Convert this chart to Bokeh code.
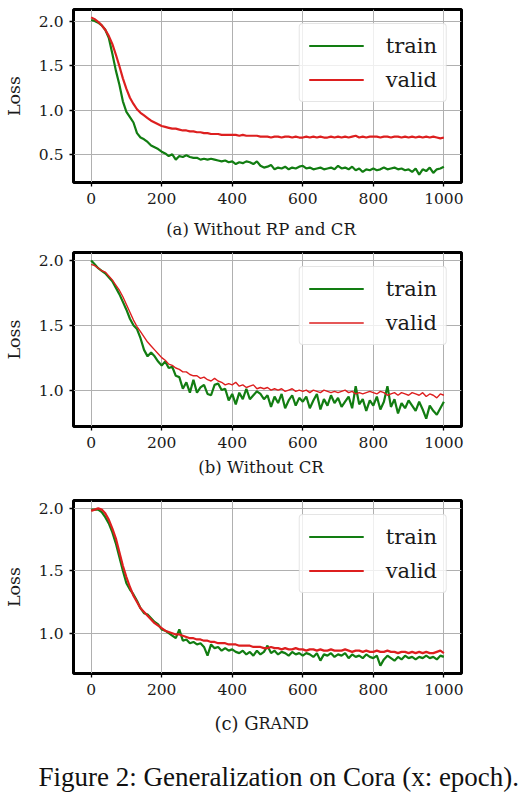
from bokeh.plotting import figure
from bokeh.layouts import column
from bokeh.models import Range1d, FixedTicker, Label, Legend, LegendItem, Title
from bokeh.embed import file_html
from bokeh.resources import INLINE

# ---------------- data ----------------
epochs = list(range(0, 1001, 10))

train_a = [2.02, 2.01, 1.99, 1.96, 1.91, 1.82, 1.64, 1.45, 1.29, 1.10,
           0.98, 0.92, 0.86, 0.74, 0.69, 0.67, 0.64, 0.60, 0.58, 0.56,
           0.53, 0.51, 0.48, 0.50, 0.44, 0.48, 0.47, 0.49, 0.47, 0.46,
           0.46, 0.44, 0.45, 0.44, 0.45, 0.44, 0.43, 0.42, 0.43, 0.41,
           0.42, 0.39, 0.41, 0.40, 0.42, 0.41, 0.39, 0.42, 0.37, 0.35,
           0.36, 0.38, 0.33, 0.35, 0.34, 0.36, 0.33, 0.35, 0.34, 0.36,
           0.37, 0.34, 0.35, 0.33, 0.34, 0.35, 0.33, 0.34, 0.35, 0.33,
           0.37, 0.34, 0.35, 0.33, 0.36, 0.32, 0.34, 0.30, 0.33, 0.32,
           0.34, 0.32, 0.33, 0.35, 0.33, 0.34, 0.35, 0.33, 0.34, 0.32,
           0.33, 0.30, 0.34, 0.27, 0.33, 0.31, 0.35, 0.29, 0.33, 0.34,
           0.36]
valid_a = [2.05, 2.03, 2.00, 1.96, 1.91, 1.84, 1.75, 1.63, 1.50, 1.36,
           1.24, 1.14, 1.07, 1.01, 0.97, 0.94, 0.91, 0.88, 0.86, 0.84,
           0.82, 0.81, 0.80, 0.79, 0.79, 0.78, 0.77, 0.77, 0.76, 0.76,
           0.75, 0.75, 0.74, 0.74, 0.73, 0.73, 0.73, 0.72, 0.72, 0.72,
           0.72, 0.72, 0.71, 0.72, 0.71, 0.71, 0.71, 0.71, 0.70, 0.70,
           0.70, 0.69, 0.70, 0.70, 0.69, 0.70, 0.70, 0.69, 0.70, 0.69,
           0.69, 0.70, 0.69, 0.70, 0.69, 0.70, 0.69, 0.69, 0.70, 0.69,
           0.70, 0.69, 0.70, 0.69, 0.70, 0.71, 0.69, 0.70, 0.69, 0.70,
           0.70, 0.70, 0.69, 0.70, 0.70, 0.69, 0.70, 0.70, 0.69, 0.70,
           0.69, 0.70, 0.69, 0.70, 0.69, 0.70, 0.69, 0.70, 0.69, 0.68,
           0.69]

train_b = [2.00, 1.97, 1.94, 1.92, 1.90, 1.87, 1.84, 1.79, 1.74, 1.68,
           1.62, 1.55, 1.50, 1.47, 1.40, 1.31, 1.26, 1.29, 1.26, 1.22,
           1.19, 1.22, 1.17, 1.18, 1.11, 1.10, 1.01, 1.06, 0.98, 1.08,
           0.98, 1.02, 1.04, 0.97, 0.96, 1.04, 1.05, 1.00, 1.01, 0.92,
           0.97, 0.89, 0.98, 0.93, 1.01, 0.93, 0.96, 0.99, 0.97, 0.93,
           0.96, 0.87, 0.95, 0.90, 0.97, 0.86, 0.92, 0.96, 0.88, 0.94,
           0.91, 0.95, 0.86, 0.92, 0.97, 0.85, 0.93, 0.88, 0.96, 0.90,
           0.94, 0.87, 0.91, 0.95, 0.86, 1.03, 0.89, 0.93, 0.84, 0.92,
           0.88, 0.95, 0.85, 0.91, 1.03, 0.87, 0.93, 0.82, 0.90, 0.86,
           0.92, 0.88, 0.84, 0.91, 0.85, 0.78, 0.88, 0.84, 0.81, 0.86,
           0.91]
valid_b = [1.97, 1.96, 1.94, 1.92, 1.91, 1.88, 1.85, 1.81, 1.77, 1.72,
           1.66, 1.60, 1.54, 1.49, 1.45, 1.41, 1.37, 1.34, 1.31, 1.28,
           1.25, 1.23, 1.20, 1.19, 1.17, 1.16, 1.14, 1.14, 1.12, 1.11,
           1.11, 1.09, 1.10, 1.08, 1.07, 1.09, 1.07, 1.06, 1.04, 1.05,
           1.04, 1.06, 1.03, 1.04, 1.02, 1.03, 1.04, 1.01, 1.02, 1.01,
           1.02, 1.00, 1.01, 1.00, 1.01, 0.99, 1.00, 1.01, 0.99, 1.00,
           0.99, 1.00, 0.98, 1.00, 0.99, 0.98, 1.00, 0.99, 0.98, 0.99,
           0.98, 0.99, 1.00, 0.98, 0.99, 0.97, 0.98, 0.97, 0.98, 0.99,
           0.98, 0.97, 0.99, 0.98, 0.96, 0.97, 0.98, 0.96, 0.98, 0.97,
           0.96, 0.98, 0.97, 0.96, 0.98, 0.95, 0.97, 0.96, 0.94, 0.97,
           0.96]

train_c = [1.99, 1.99, 1.99, 1.97, 1.93, 1.88, 1.81, 1.72, 1.61, 1.50,
           1.40, 1.35, 1.31, 1.26, 1.20, 1.16, 1.15, 1.12, 1.09, 1.07,
           1.03, 1.02, 1.00, 0.98, 0.96, 1.03, 0.94, 0.95, 0.92, 0.93,
           0.91, 0.92, 0.89, 0.82, 0.91, 0.88, 0.89, 0.86, 0.88, 0.86,
           0.87, 0.85, 0.84, 0.86, 0.83, 0.85, 0.82, 0.86, 0.83, 0.85,
           0.90, 0.84, 0.86, 0.83, 0.85, 0.84, 0.82, 0.85, 0.83, 0.84,
           0.82, 0.84, 0.83, 0.81, 0.84, 0.78, 0.83, 0.82, 0.84, 0.81,
           0.83, 0.82, 0.84, 0.80, 0.83, 0.81, 0.82, 0.80, 0.83, 0.81,
           0.80, 0.82, 0.74, 0.79, 0.82, 0.80, 0.78, 0.81, 0.79, 0.82,
           0.80, 0.81, 0.79, 0.81, 0.80, 0.82, 0.80, 0.81, 0.79, 0.82,
           0.81]
valid_c = [1.98, 1.99, 2.00, 1.99, 1.96, 1.91, 1.84, 1.76, 1.65, 1.54,
           1.45, 1.37, 1.30, 1.25, 1.20, 1.17, 1.14, 1.11, 1.08, 1.06,
           1.04, 1.02, 1.01, 1.00, 0.99, 0.99, 0.98, 0.97, 0.96, 0.96,
           0.95, 0.95, 0.94, 0.94, 0.93, 0.93, 0.92, 0.92, 0.92, 0.91,
           0.91, 0.91, 0.90, 0.90, 0.90, 0.90, 0.89, 0.89, 0.89, 0.88,
           0.88, 0.89, 0.88, 0.88, 0.87, 0.88, 0.87, 0.87, 0.88, 0.87,
           0.87, 0.86, 0.87, 0.87, 0.86, 0.87, 0.86, 0.86, 0.87, 0.86,
           0.86, 0.86, 0.87, 0.86, 0.85, 0.86, 0.86, 0.85, 0.86, 0.85,
           0.85, 0.86, 0.85, 0.85, 0.86, 0.85, 0.85, 0.84, 0.85, 0.85,
           0.84, 0.85, 0.84, 0.85, 0.84, 0.85, 0.84, 0.84, 0.85, 0.86,
           0.84]

series_labels = ["train", "valid"]
x_ticks = [0, 200, 400, 600, 800, 1000]
x_tick_labels = ["0", "200", "400", "600", "800", "1000"]
y_ticks_a = [0.5, 1.0, 1.5, 2.0]
y_tick_labels_a = ["0.5", "1.0", "1.5", "2.0"]
y_ticks_bc = [1.0, 1.5, 2.0]
y_tick_labels_bc = ["1.0", "1.5", "2.0"]
y_label = "Loss"
captions = ["(a) Without RP and CR", "(b) Without CR"]
caption_c = ["(c) G", "RAND"]
figure_caption = "Figure 2: Generalization on Cora (x: epoch)."

# ---------------- style ----------------
GREEN = "#127d12"
RED = "#dd1f1f"
SERIF = "DejaVu Serif"
TEXT = "#1a1a1a"
W = 525
BL, BR = 72, 64


def panel(train, valid, yticks, ylabels, height, top, frame_h, valid_w):
    lo = min(train + valid)
    hi = max(train + valid)
    pad = 0.05 * (hi - lo)
    p = figure(width=W, height=height, x_range=Range1d(-50, 1050),
               y_range=Range1d(lo - pad, hi + pad),
               output_backend="svg", toolbar_location=None,
               min_border_left=BL, min_border_right=BR,
               min_border_top=top, min_border_bottom=height - top - frame_h)
    p.background_fill_color = "white"
    p.border_fill_color = "white"
    p.outline_line_color = "black"
    p.outline_line_width = 3
    p.outline_line_alpha = 1.0

    p.xaxis.ticker = FixedTicker(ticks=x_ticks)
    p.xaxis.major_label_overrides = dict(zip(x_ticks, x_tick_labels))
    p.yaxis.ticker = FixedTicker(ticks=yticks)
    p.yaxis.major_label_overrides = dict(zip(yticks, ylabels))
    p.xgrid.ticker = FixedTicker(ticks=x_ticks)
    p.ygrid.ticker = FixedTicker(ticks=yticks)
    p.grid.grid_line_color = "#b0b0b0"
    p.grid.grid_line_width = 1

    for ax in (p.xaxis[0], p.yaxis[0]):
        ax.axis_line_color = None
        ax.major_tick_line_color = "black"
        ax.major_tick_line_width = 1.3
        ax.major_tick_in = 0
        ax.major_tick_out = 4
        ax.minor_tick_line_color = None
        ax.major_label_text_font = SERIF
        ax.major_label_text_font_size = "15.5px"
        ax.major_label_text_color = TEXT
        ax.major_label_standoff = 6

    p.yaxis.axis_label = y_label
    p.yaxis.axis_label_text_font = SERIF
    p.yaxis.axis_label_text_font_size = "17.5px"
    p.yaxis.axis_label_text_font_style = "normal"
    p.yaxis.axis_label_text_color = TEXT
    p.yaxis.axis_label_standoff = 12

    r1 = p.line(epochs, train, line_color=GREEN, line_width=2.2)
    r2 = p.line(epochs, valid, line_color=RED, line_width=valid_w)
    legend = Legend(items=[LegendItem(label=series_labels[0], renderers=[r1]),
                           LegendItem(label=series_labels[1], renderers=[r2])],
                    location="top_right")
    legend.label_text_font = SERIF
    legend.label_text_font_size = "21px"
    legend.label_text_color = TEXT
    legend.glyph_width = 55
    legend.glyph_height = 25
    legend.label_standoff = 22
    legend.spacing = 9
    legend.padding = 9
    legend.margin = 14
    legend.border_line_color = "#cccccc"
    legend.border_line_width = 1
    legend.background_fill_color = "white"
    legend.background_fill_alpha = 0.8
    try:
        legend.border_radius = 4
    except Exception:
        pass
    p.add_layout(legend)
    return p


def caption_fig(height):
    c = figure(width=W, height=height, x_range=Range1d(0, 1), y_range=Range1d(0, 1),
               x_axis_type=None, y_axis_type=None, output_backend="svg",
               toolbar_location=None, min_border_left=BL, min_border_right=BR,
               min_border_top=0, min_border_bottom=0)
    c.outline_line_color = None
    c.background_fill_color = "white"
    c.border_fill_color = "white"
    return c


def cap_label(x, y, text, size, align="center"):
    return Label(x=x, y=y, x_units="screen", y_units="screen", text=text,
                 text_align=align, text_baseline="middle", text_font=SERIF,
                 text_font_size=size, text_color=TEXT)


# page layout (top to bottom): panel a, caption a, panel b, caption b,
# panel c, caption c, figure caption
pa = panel(train_a, valid_a, y_ticks_a, y_tick_labels_a, 212, 9, 173, 2.2)
ca = caption_fig(28)
ca.add_layout(cap_label(187.5, 11, captions[0], "16.5px"))

pb = panel(train_b, valid_b, y_ticks_bc, y_tick_labels_bc, 215, 12, 174, 1.4)
cb = caption_fig(23)
cb.add_layout(cap_label(187.5, 11.5, captions[1], "16.5px"))

pc = panel(train_c, valid_c, y_ticks_bc, y_tick_labels_bc, 225, 22, 173, 2.2)
cc = caption_fig(35)
cc.add_layout(cap_label(141, 15, caption_c[0], "18px", "left"))
cc.add_layout(cap_label(185, 15, caption_c[1], "16px", "left"))

pd = caption_fig(56)
pd.add_layout(Title(text=figure_caption, align="left", offset=-35,
                    text_font="Liberation Serif", text_font_size="27px",
                    text_font_style="normal", text_color="#111111",
                    standoff=6, vertical_align="bottom"), "below")

layout = column(pa, ca, pb, cb, pc, cc, pd, spacing=0)
open("out.html", "w").write(file_html(layout, INLINE))
